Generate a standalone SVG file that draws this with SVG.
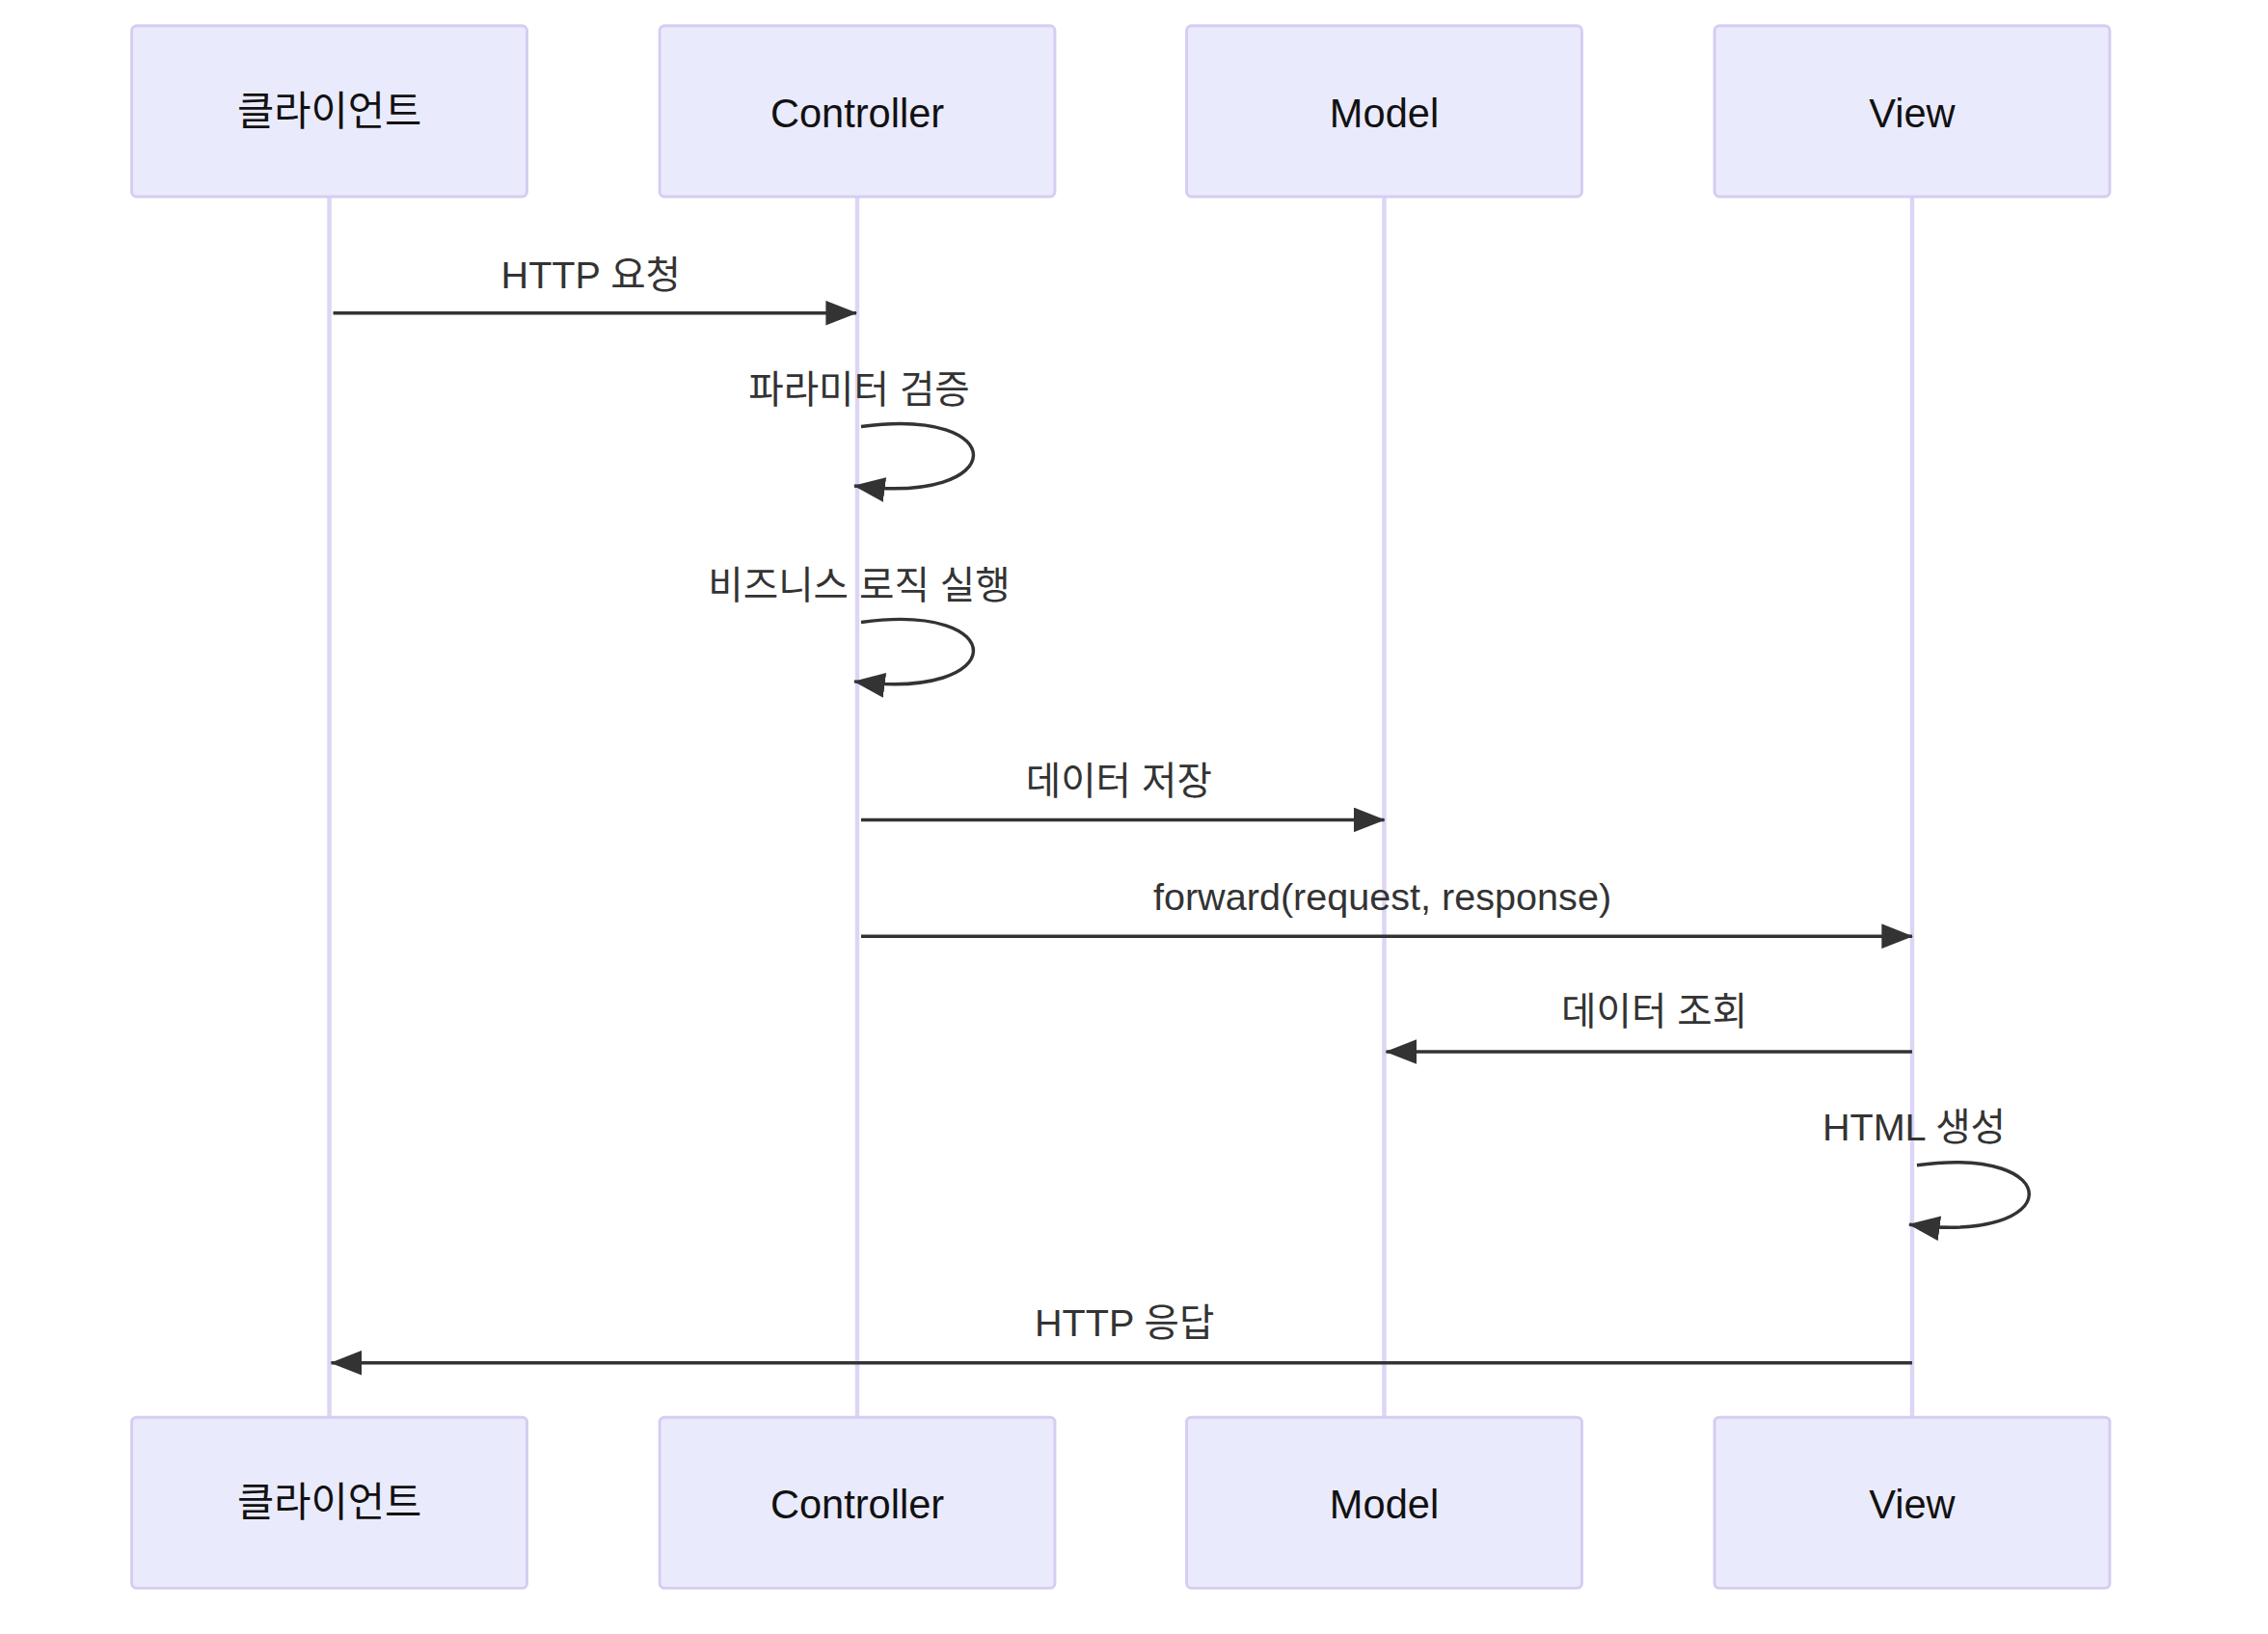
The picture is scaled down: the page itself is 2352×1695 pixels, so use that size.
<svg xmlns="http://www.w3.org/2000/svg" width="2352" height="1695" viewBox="0 0 2352 1695">
<style>
.box{fill:#eaeafd;stroke:#d5cdf2;stroke-width:3}
.life{stroke:#ddd5f5;stroke-width:4.5}
.t{font-family:"Liberation Sans","Noto Sans CJK KR",sans-serif;font-size:42px;fill:#111;text-anchor:middle}
.m{font-family:"Liberation Sans","Noto Sans CJK KR",sans-serif;font-size:40px;fill:#333;text-anchor:middle}
.msg{stroke:#333;stroke-width:3.5;fill:none;marker-end:url(#ah)}
</style>
<defs>
<marker id="ah" markerUnits="userSpaceOnUse" markerWidth="34" markerHeight="26" refX="32" refY="13" orient="auto">
<path d="M0,0 L33,13 L0,26 z" fill="#333"/>
</marker>
</defs>
<rect width="2352" height="1695" fill="#fff"/>
<g transform="scale(0.99)">
<g id="lifelines">
<line class="life" x1="345" y1="206" x2="345" y2="1485"/>
<line class="life" x1="898" y1="206" x2="898" y2="1485"/>
<line class="life" x1="1450" y1="206" x2="1450" y2="1485"/>
<line class="life" x1="2003" y1="206" x2="2003" y2="1485"/>
</g>
<g id="client"><rect class="box" x="138" y="27" width="414" height="179" rx="5"/><text class="t" x="345" y="131">클라이언트</text></g>
<g id="controller"><rect class="box" x="691" y="27" width="414" height="179" rx="5"/><text class="t" x="898" y="133">Controller</text></g>
<g id="model"><rect class="box" x="1243" y="27" width="414" height="179" rx="5"/><text class="t" x="1450" y="133">Model</text></g>
<g id="view"><rect class="box" x="1796" y="27" width="414" height="179" rx="5"/><text class="t" x="2003" y="133">View</text></g>
<g id="client-b"><rect class="box" x="138" y="1485" width="414" height="179" rx="5"/><text class="t" x="345" y="1589">클라이언트</text></g>
<g id="controller-b"><rect class="box" x="691" y="1485" width="414" height="179" rx="5"/><text class="t" x="898" y="1591">Controller</text></g>
<g id="model-b"><rect class="box" x="1243" y="1485" width="414" height="179" rx="5"/><text class="t" x="1450" y="1591">Model</text></g>
<g id="view-b"><rect class="box" x="1796" y="1485" width="414" height="179" rx="5"/><text class="t" x="2003" y="1591">View</text></g>
<g id="connectors">
<line class="msg" x1="349" y1="328" x2="897" y2="328"/>
<path class="msg" d="M902 447 C1060 425 1060 530 895 509"/>
<path class="msg" d="M902 652 C1060 630 1060 735 895 714"/>
<line class="msg" x1="902" y1="859" x2="1450" y2="859"/>
<line class="msg" x1="902" y1="981" x2="2003" y2="981"/>
<line class="msg" x1="2003" y1="1102" x2="1452" y2="1102"/>
<path class="msg" d="M2008 1221 C2166 1199 2166 1305 2000 1283"/>
<line class="msg" x1="2003" y1="1428" x2="347" y2="1428"/>
</g>
<g id="labels">
<text class="m" x="619" y="302">HTTP 요청</text>
<text class="m" x="900" y="422">파라미터 검증</text>
<text class="m" x="900" y="627">비즈니스 로직 실행</text>
<text class="m" x="1172" y="832">데이터 저장</text>
<text class="m" x="1448" y="954">forward(request, response)</text>
<text class="m" x="1733" y="1074">데이터 조회</text>
<text class="m" x="2005" y="1195">HTML 생성</text>
<text class="m" x="1178" y="1400">HTTP 응답</text>
</g>
</g>
</svg>
